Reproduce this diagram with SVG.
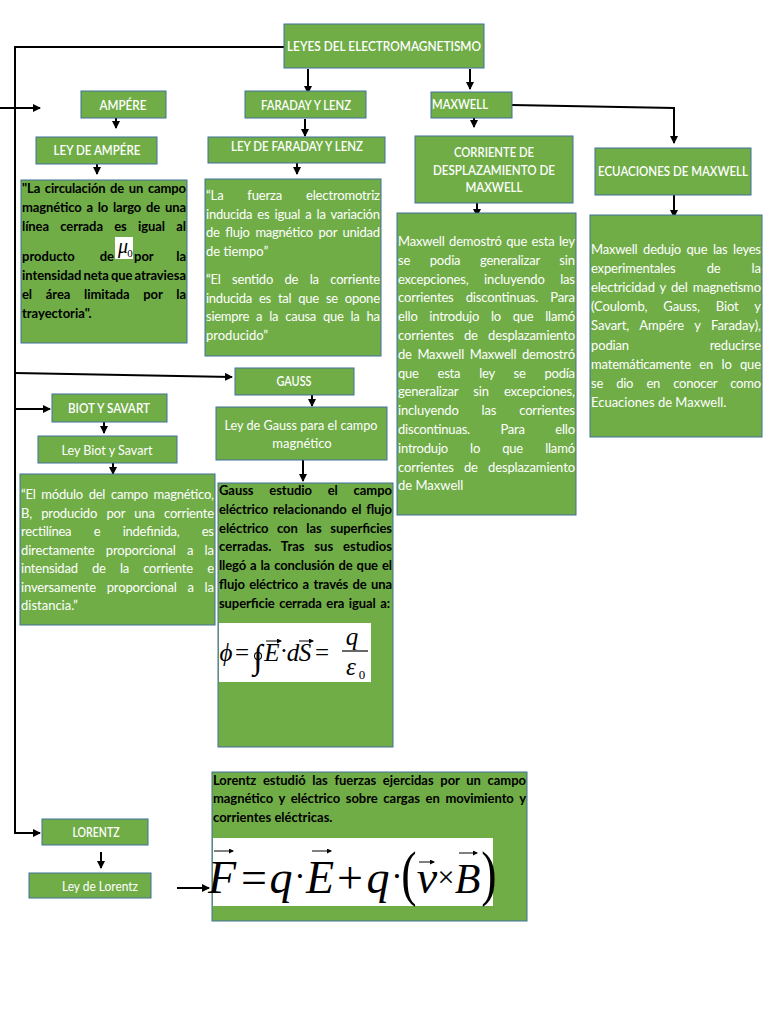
<svg xmlns="http://www.w3.org/2000/svg" width="768" height="1024" viewBox="0 0 768 1024">
<defs>
<style>
.box{fill:#70AD47;stroke:#41719C;stroke-width:1}
.lbl{font-family:Lato,"Liberation Sans",sans-serif;font-size:13px;fill:#fff;text-anchor:middle}
.up{font-weight:600}
.w{font-family:Lato,"Liberation Sans",sans-serif;font-size:13px;fill:#fff}
.b{font-family:Lato,"Liberation Sans",sans-serif;font-size:13px;fill:#000;font-weight:bold}
.conn{stroke:#000;stroke-width:2;fill:none}
.wf{fill:#fff}
.fi{font-family:"Liberation Serif","DejaVu Serif",serif;font-style:italic;fill:#000;text-anchor:middle}
.fn{font-family:"Liberation Serif","DejaVu Serif",serif;font-style:normal;fill:#000;text-anchor:middle}
.vec{stroke:#000;stroke-width:1;fill:none}
</style>
<marker id="ah" markerWidth="8" markerHeight="8" refX="7" refY="4" orient="auto" markerUnits="userSpaceOnUse">
<path d="M0,0 L8,4 L0,8 z" fill="#000"/>
</marker>
<marker id="va" markerWidth="5" markerHeight="5" refX="4" refY="2.5" orient="auto" markerUnits="userSpaceOnUse">
<path d="M0,0 L5,2.5 L0,5 z" fill="#000"/>
</marker>
</defs>
<rect width="768" height="1024" fill="#fff"/>

<g id="connectors">
<polyline class="conn" points="284,47 15,47 15,833 40,833" marker-end="url(#ah)"/>
<line class="conn" x1="0" y1="108" x2="40" y2="108" marker-end="url(#ah)"/>
<line class="conn" x1="15" y1="373" x2="232" y2="377" marker-end="url(#ah)"/>
<line class="conn" x1="15" y1="409" x2="50" y2="409" marker-end="url(#ah)"/>
<line class="conn" x1="308" y1="69" x2="308" y2="93" marker-end="url(#ah)"/>
<line class="conn" x1="470" y1="69" x2="470" y2="89" marker-end="url(#ah)"/>
<line class="conn" x1="116" y1="110" x2="116" y2="128" marker-end="url(#ah)"/>
<line class="conn" x1="97" y1="157" x2="97" y2="174" marker-end="url(#ah)"/>
<line class="conn" x1="305" y1="119" x2="305" y2="136" marker-end="url(#ah)"/>
<line class="conn" x1="297" y1="155" x2="297" y2="174" marker-end="url(#ah)"/>
<line class="conn" x1="474" y1="109" x2="474" y2="127" marker-end="url(#ah)"/>
<polyline class="conn" points="512,105 674,108 674,143" marker-end="url(#ah)"/>
<line class="conn" x1="477" y1="203" x2="477" y2="216" marker-end="url(#ah)"/>
<line class="conn" x1="674" y1="195" x2="674" y2="217" marker-end="url(#ah)"/>
<line class="conn" x1="312" y1="395" x2="312" y2="406" marker-end="url(#ah)"/>
<line class="conn" x1="303" y1="460" x2="303" y2="481" marker-end="url(#ah)"/>
<line class="conn" x1="104" y1="422" x2="104" y2="433" marker-end="url(#ah)"/>
<line class="conn" x1="113" y1="463" x2="113" y2="474" marker-end="url(#ah)"/>
<line class="conn" x1="101" y1="852" x2="101" y2="868" marker-end="url(#ah)"/>
<line class="conn" x1="177" y1="888" x2="209" y2="888" marker-end="url(#ah)"/>
</g>

<g id="leyes">
<rect class="box" x="284" y="24" width="200" height="44"/>
<text class="lbl up" x="384" y="50.5" textLength="194" lengthAdjust="spacingAndGlyphs">LEYES DEL ELECTROMAGNETISMO</text>
</g>

<g id="ampere">
<rect class="box" x="81" y="91" width="85" height="27"/>
<text class="lbl up" x="123" y="109.5" textLength="47" lengthAdjust="spacingAndGlyphs">AMPÉRE</text>
</g>
<g id="ley-ampere">
<rect class="box" x="36" y="137" width="121" height="27"/>
<text class="lbl up" x="97" y="154.5" textLength="87" lengthAdjust="spacingAndGlyphs">LEY DE AMPÉRE</text>
</g>
<g id="ampere-texto">
<rect class="box" x="21" y="180" width="166" height="163"/>
<text class="b" x="22" y="193" word-spacing="1.6" textLength="164" lengthAdjust="spacing">"La circulación de un campo</text>
<text class="b" x="22" y="212" word-spacing="1.8" textLength="164" lengthAdjust="spacing">magnético a lo largo de una</text>
<text class="b" x="22" y="231" word-spacing="8.3" textLength="164" lengthAdjust="spacing">línea cerrada es igual al</text>
<text class="b" x="22" y="261">producto</text>
<text class="b" x="114" y="261" text-anchor="end">de</text>
<rect x="115" y="237" width="18" height="22" fill="#fff"/>
<text class="fi" x="123" y="253" font-size="20">μ</text>
<text class="fn" x="130" y="257" font-size="11">0</text>
<text class="b" x="134" y="261">por</text>
<text class="b" x="186" y="261" text-anchor="end">la</text>
<text class="b" x="22" y="280" word-spacing="-1" textLength="164" lengthAdjust="spacing">intensidad neta que atraviesa</text>
<text class="b" x="22" y="299" word-spacing="10.8" textLength="164" lengthAdjust="spacing">el área limitada por la</text>
<text class="b" x="22" y="318">trayectoria".</text>
</g>

<g id="faraday">
<rect class="box" x="245" y="91" width="121" height="27"/>
<text class="lbl up" x="306" y="109.5" textLength="90" lengthAdjust="spacingAndGlyphs">FARADAY Y LENZ</text>
</g>
<g id="ley-faraday">
<rect class="box" x="208" y="137" width="177" height="26"/>
<text class="lbl up" x="297" y="150.5" textLength="132" lengthAdjust="spacingAndGlyphs">LEY DE FARADAY Y LENZ</text>
</g>
<g id="faraday-texto">
<rect class="box" x="205" y="179" width="176" height="177"/>
<text class="w" x="206" y="200" word-spacing="20.7" textLength="174" lengthAdjust="spacing">“La fuerza electromotriz</text>
<text class="w" x="206" y="218.5" word-spacing="2" textLength="174" lengthAdjust="spacing">inducida es igual a la variación</text>
<text class="w" x="206" y="237" word-spacing="2.6" textLength="174" lengthAdjust="spacing">de flujo magnético por unidad</text>
<text class="w" x="206" y="255.5">de tiempo”</text>
<text class="w" x="206" y="284" word-spacing="8.4" textLength="174" lengthAdjust="spacing">“El sentido de la corriente</text>
<text class="w" x="206" y="302.5" word-spacing="3.9" textLength="174" lengthAdjust="spacing">inducida es tal que se opone</text>
<text class="w" x="206" y="321" word-spacing="3.9" textLength="174" lengthAdjust="spacing">siempre a la causa que la ha</text>
<text class="w" x="206" y="339.5">producido”</text>
</g>

<g id="maxwell">
<rect class="box" x="431" y="92" width="81" height="26"/>
<text class="w up" x="432" y="109" textLength="56" lengthAdjust="spacingAndGlyphs">MAXWELL</text>
</g>
<g id="corriente-desplazamiento">
<rect class="box" x="415" y="136" width="158" height="67"/>
<text class="lbl up" x="494" y="156.5" textLength="80" lengthAdjust="spacingAndGlyphs">CORRIENTE DE</text>
<text class="lbl up" x="494" y="174.5" textLength="122" lengthAdjust="spacingAndGlyphs">DESPLAZAMIENTO DE</text>
<text class="lbl up" x="494" y="191.5" textLength="57" lengthAdjust="spacingAndGlyphs">MAXWELL</text>
</g>
<g id="ecuaciones">
<rect class="box" x="595" y="148" width="156" height="47"/>
<text class="lbl up" x="673" y="175.5" textLength="150" lengthAdjust="spacingAndGlyphs">ECUACIONES DE MAXWELL</text>
</g>
<g id="maxwell-texto-1">
<rect class="box" x="397" y="213" width="179" height="302"/>
<text class="w" x="398" y="246" word-spacing="1.4" textLength="177" lengthAdjust="spacing">Maxwell demostró que esta ley</text>
<text class="w" x="398" y="264.8" word-spacing="16.4" textLength="177" lengthAdjust="spacing">se podia generalizar sin</text>
<text class="w" x="398" y="283.6" word-spacing="12.4" textLength="177" lengthAdjust="spacing">excepciones, incluyendo las</text>
<text class="w" x="398" y="302.4" word-spacing="9" textLength="177" lengthAdjust="spacing">corrientes discontinuas. Para</text>
<text class="w" x="398" y="321.2" word-spacing="8.6" textLength="177" lengthAdjust="spacing">ello introdujo lo que llamó</text>
<text class="w" x="398" y="340" word-spacing="7" textLength="177" lengthAdjust="spacing">corrientes de desplazamiento</text>
<text class="w" x="398" y="358.8" word-spacing="2.5" textLength="177" lengthAdjust="spacing">de Maxwell Maxwell demostró</text>
<text class="w" x="398" y="377.6" word-spacing="15.9" textLength="177" lengthAdjust="spacing">que esta ley se podía</text>
<text class="w" x="398" y="396.4" word-spacing="11.9" textLength="177" lengthAdjust="spacing">generalizar sin excepciones,</text>
<text class="w" x="398" y="415.2" word-spacing="19.8" textLength="177" lengthAdjust="spacing">incluyendo las corrientes</text>
<text class="w" x="398" y="434" word-spacing="27.3" textLength="177" lengthAdjust="spacing">discontinuas. Para ello</text>
<text class="w" x="398" y="452.8" word-spacing="19" textLength="177" lengthAdjust="spacing">introdujo lo que llamó</text>
<text class="w" x="398" y="471.6" word-spacing="7" textLength="177" lengthAdjust="spacing">corrientes de desplazamiento</text>
<text class="w" x="398" y="490.4">de Maxwell</text>
</g>
<g id="maxwell-texto-2">
<rect class="box" x="590" y="215" width="172" height="222"/>
<text class="w" x="591" y="254" word-spacing="2.5" textLength="170" lengthAdjust="spacing">Maxwell dedujo que las leyes</text>
<text class="w" x="591" y="273" word-spacing="28" textLength="170" lengthAdjust="spacing">experimentales de la</text>
<text class="w" x="591" y="292" word-spacing="2" textLength="170" lengthAdjust="spacing">electricidad y del magnetismo</text>
<text class="w" x="591" y="311" word-spacing="12.9" textLength="170" lengthAdjust="spacing">(Coulomb, Gauss, Biot y</text>
<text class="w" x="591" y="330" word-spacing="7.3" textLength="170" lengthAdjust="spacing">Savart, Ampére y Faraday),</text>
<text class="w" x="591" y="349.5" word-spacing="77.5" textLength="170" lengthAdjust="spacing">podian reducirse</text>
<text class="w" x="591" y="368.5" word-spacing="5.3" textLength="170" lengthAdjust="spacing">matemáticamente en lo que</text>
<text class="w" x="591" y="387.5" word-spacing="10.1" textLength="170" lengthAdjust="spacing">se dio en conocer como</text>
<text class="w" x="591" y="407">Ecuaciones de Maxwell.</text>
</g>

<g id="gauss">
<rect class="box" x="235" y="368" width="119" height="27"/>
<text class="lbl up" x="294" y="385.5" textLength="35" lengthAdjust="spacingAndGlyphs">GAUSS</text>
</g>
<g id="ley-gauss">
<rect class="box" x="216" y="407" width="171" height="53"/>
<text class="lbl" x="301" y="429.5" textLength="153" lengthAdjust="spacingAndGlyphs">Ley de Gauss para el campo</text>
<text class="lbl" x="302" y="447.5">magnético</text>
</g>
<g id="gauss-texto">
<rect class="box" x="218" y="483" width="175" height="264"/>
<text class="b" x="219" y="495" word-spacing="12.7" textLength="173" lengthAdjust="spacing">Gauss estudio el campo</text>
<text class="b" x="219" y="514" word-spacing="1.7" textLength="173" lengthAdjust="spacing">eléctrico relacionando el flujo</text>
<text class="b" x="219" y="533" word-spacing="5.5" textLength="173" lengthAdjust="spacing">eléctrico con las superficies</text>
<text class="b" x="219" y="551" word-spacing="6.6" textLength="173" lengthAdjust="spacing">cerradas. Tras sus estudios</text>
<text class="b" x="219" y="570" word-spacing="1" textLength="173" lengthAdjust="spacing">llegó a la conclusión de que el</text>
<text class="b" x="219" y="589" word-spacing="1.3" textLength="173" lengthAdjust="spacing">flujo eléctrico a través de una</text>
<text class="b" x="219" y="608" word-spacing="1.4" textLength="171" lengthAdjust="spacing">superficie cerrada era igual a:</text>
<rect class="wf" x="219" y="623" width="152" height="59"/>
<text class="fi" y="661" font-size="25"><tspan x="226">ϕ</tspan><tspan class="fn" x="242">=</tspan><tspan class="fn" x="258" y="668" font-size="34">∫</tspan><tspan x="272" y="661">E</tspan><tspan class="fn" x="284" y="659">·</tspan><tspan x="293" y="661">d</tspan><tspan x="305">S</tspan><tspan class="fn" x="322">=</tspan><tspan x="352" y="645">q</tspan><tspan x="351" y="675">ε</tspan><tspan class="fn" x="362" y="679" font-size="13">0</tspan></text>
<circle cx="258" cy="656" r="3.5" fill="none" stroke="#000" stroke-width="1.1"/>
<line class="vec" x1="266" y1="641" x2="281" y2="641" marker-end="url(#va)"/>
<line class="vec" x1="299" y1="641" x2="313" y2="641" marker-end="url(#va)"/>
<line x1="342" y1="651" x2="368" y2="651" stroke="#000" stroke-width="1.2"/>
</g>

<g id="biot-savart">
<rect class="box" x="52" y="394" width="115" height="28"/>
<text class="lbl up" x="109" y="412.5" textLength="82" lengthAdjust="spacingAndGlyphs">BIOT Y SAVART</text>
</g>
<g id="ley-biot">
<rect class="box" x="38" y="436" width="139" height="27"/>
<text class="lbl" x="107" y="454.5" textLength="91" lengthAdjust="spacingAndGlyphs">Ley Biot y Savart</text>
</g>
<g id="biot-texto">
<rect class="box" x="20" y="474" width="195" height="151"/>
<text class="w" x="21" y="499" word-spacing="2.7" textLength="193" lengthAdjust="spacing">“El módulo del campo magnético,</text>
<text class="w" x="21" y="517.5" word-spacing="6.2" textLength="193" lengthAdjust="spacing">B, producido por una corriente</text>
<text class="w" x="21" y="536" word-spacing="19.2" textLength="193" lengthAdjust="spacing">rectilínea e indefinida, es</text>
<text class="w" x="21" y="554.5" word-spacing="8.1" textLength="193" lengthAdjust="spacing">directamente proporcional a la</text>
<text class="w" x="21" y="573" word-spacing="11.1" textLength="193" lengthAdjust="spacing">intensidad de la corriente e</text>
<text class="w" x="21" y="591.5" word-spacing="7.6" textLength="193" lengthAdjust="spacing">inversamente proporcional a la</text>
<text class="w" x="21" y="610">distancia.”</text>
</g>

<g id="lorentz">
<rect class="box" x="42" y="819" width="106" height="26"/>
<text class="lbl up" x="96" y="836.5" textLength="47" lengthAdjust="spacingAndGlyphs">LORENTZ</text>
</g>
<g id="ley-lorentz">
<rect class="box" x="29" y="873" width="122" height="25"/>
<text class="lbl" x="100" y="890.5" textLength="76" lengthAdjust="spacingAndGlyphs">Ley de Lorentz</text>
</g>
<g id="lorentz-texto">
<rect class="box" x="212" y="772" width="315" height="149"/>
<text class="b" x="213" y="785" word-spacing="3.6" textLength="313" lengthAdjust="spacing">Lorentz estudió las fuerzas ejercidas por un campo</text>
<text class="b" x="213" y="803" word-spacing="2.6" textLength="313" lengthAdjust="spacing">magnético y eléctrico sobre cargas en movimiento y</text>
<text class="b" x="213" y="822">corrientes eléctricas.</text>
<rect class="wf" x="213" y="838" width="280" height="68"/>
<text class="fi" y="893" font-size="46"><tspan x="222">F</tspan><tspan class="fn" x="254">=</tspan><tspan x="281">q</tspan><tspan class="fn" x="300" y="887" font-size="34">·</tspan><tspan x="320" y="893">E</tspan><tspan class="fn" x="350">+</tspan><tspan x="378">q</tspan><tspan class="fn" x="397" y="887" font-size="34">·</tspan><tspan x="427" y="893">v</tspan><tspan class="fn" x="446" y="887" font-size="30">×</tspan><tspan x="467.5" y="893" font-size="42">B</tspan></text>
<text class="fn" font-size="46" transform="translate(409,894) scale(1,1.35)">(</text>
<text class="fn" font-size="46" transform="translate(489,894) scale(1,1.35)">)</text>
<line class="vec" x1="214" y1="851" x2="233" y2="851" marker-end="url(#va)"/>
<line class="vec" x1="312" y1="851" x2="331" y2="851" marker-end="url(#va)"/>
<line class="vec" x1="419" y1="862" x2="434" y2="862" marker-end="url(#va)"/>
<line class="vec" x1="459" y1="853" x2="477" y2="853" marker-end="url(#va)"/>
</g>
</svg>
